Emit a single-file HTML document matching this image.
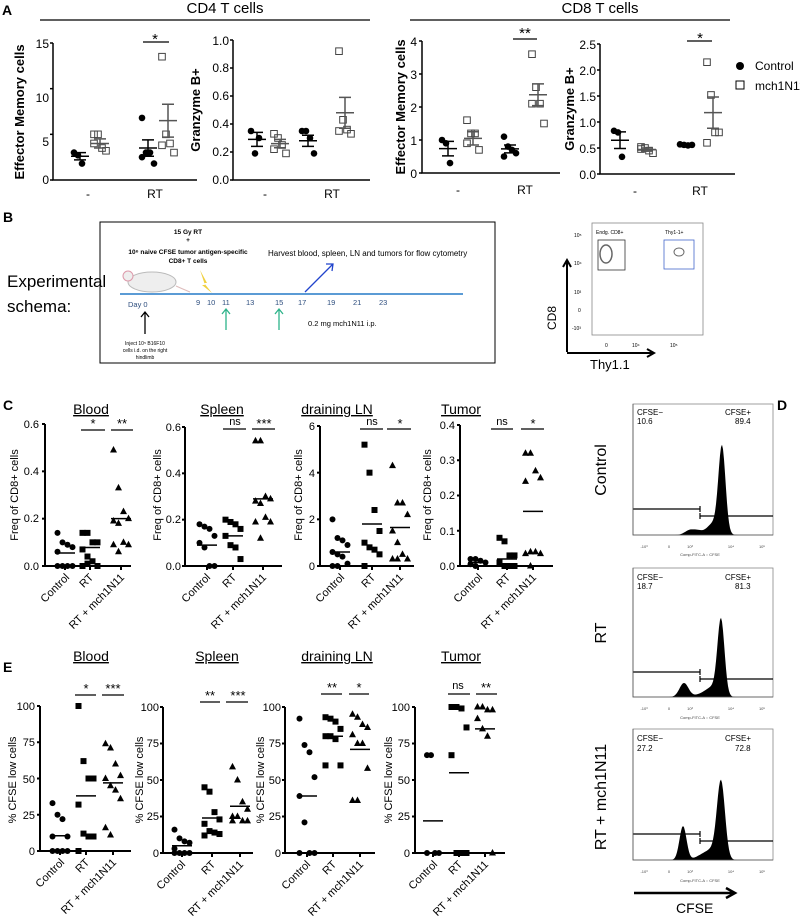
<!DOCTYPE html>
<html><head><meta charset="utf-8"><style>
html,body{margin:0;padding:0;background:#fff;}
svg{display:block;font-family:"Liberation Sans",Arial,sans-serif;}
</style></head><body>
<svg id="s" width="800" height="918" viewBox="0 0 800 918" xmlns="http://www.w3.org/2000/svg">
<g font-weight="bold" font-size="14"><text x="2" y="15">A</text><text x="3" y="222">B</text><text x="3" y="410">C</text><text x="777" y="410">D</text><text x="3" y="672">E</text></g>
<text x="225" y="13" font-size="15" text-anchor="middle">CD4 T cells</text>
<line x1="40" y1="20" x2="370" y2="20" stroke="#000" stroke-width="1.2"/>
<text x="600" y="13" font-size="15" text-anchor="middle">CD8 T cells</text>
<line x1="410" y1="20" x2="730" y2="20" stroke="#000" stroke-width="1.2"/>
<g font-size="13" font-weight="bold">
<text transform="translate(24,112) rotate(-90)" text-anchor="middle">Effector Memory cells</text>
<text transform="translate(200,110) rotate(-90)" text-anchor="middle">Granzyme B+</text>
<text transform="translate(405,107) rotate(-90)" text-anchor="middle">Effector Memory cells</text>
<text transform="translate(574,109) rotate(-90)" text-anchor="middle">Granzyme B+</text>
</g>
<g font-size="12" text-anchor="end">
<text x="49" y="48">15</text><text x="49" y="102">10</text><text x="49" y="146">5</text><text x="49" y="184">0</text>
<text x="229" y="45">1.0</text><text x="229" y="72">0.8</text><text x="229" y="100">0.6</text><text x="229" y="128">0.4</text><text x="229" y="156">0.2</text><text x="229" y="184">0.0</text>
<text x="417" y="46">4</text><text x="417" y="79">3</text><text x="417" y="112">2</text><text x="417" y="145">1</text><text x="417" y="178">0</text>
<text x="596" y="49">2.5</text><text x="596" y="75">2.0</text><text x="596" y="101">1.5</text><text x="596" y="127">1.0</text><text x="596" y="153">0.5</text><text x="596" y="179">0.0</text>
</g>
<g font-size="12" text-anchor="middle">
<text x="88" y="198">-</text><text x="155" y="198">RT</text>
<text x="265" y="198">-</text><text x="332" y="198">RT</text>
<text x="458" y="194">-</text><text x="525" y="194">RT</text>
<text x="635" y="195">-</text><text x="700" y="195">RT</text>
</g>
<g font-size="15" text-anchor="middle"><text x="155" y="44">*</text><text x="525" y="38">**</text><text x="700" y="43">*</text></g>
<g stroke="#000" stroke-width="1.2"><line x1="143" y1="42" x2="169" y2="42"/><line x1="513" y1="39" x2="537" y2="39"/><line x1="687" y1="41" x2="712" y2="41"/></g>
<circle cx="740" cy="66" r="4"/><text x="755" y="70" font-size="12">Control</text>
<rect x="736" y="81" width="8" height="8" fill="none" stroke="#000" stroke-width="1"/><text x="755" y="90" font-size="12">mch1N11</text>

<rect x="100" y="222" width="395" height="141" fill="none" stroke="#000" stroke-width="1"/>
<text x="7" y="287" font-size="17">Experimental</text><text x="7" y="312" font-size="17">schema:</text>
<line x1="120" y1="294" x2="463" y2="294" stroke="#5b9bd5" stroke-width="2"/>
<g font-size="6.5" font-weight="bold" text-anchor="middle"><text x="188" y="234">15 Gy RT</text><text x="188" y="242">+</text><text x="188" y="254">10⁶ naive CFSE tumor antigen-specific</text><text x="188" y="263">CD8+ T cells</text></g>
<text x="268" y="256" font-size="8">Harvest blood, spleen, LN and tumors for flow cytometry</text>
<g font-size="7.5" fill="#2f4f7f"><text x="128" y="307">Day 0</text><text x="196" y="305">9</text><text x="207" y="305">10</text><text x="222" y="305">11</text><text x="246" y="305">13</text><text x="275" y="305">15</text><text x="298" y="305">17</text><text x="327" y="305">19</text><text x="353" y="305">21</text><text x="379" y="305">23</text></g>
<text x="308" y="326" font-size="7.5">0.2 mg mch1N11 i.p.</text>
<g font-size="5" text-anchor="middle"><text x="145" y="345">Inject 10⁵ B16F10</text><text x="145" y="352">cells i.d. on the right</text><text x="145" y="359">hindlimb</text></g>
<g stroke-width="1.3" fill="none"><path d="M145 334V313M141 317L145 312L149 317" stroke="#000"/><path d="M226 330V310M222 314L226 309L230 314M279 330V310M275 314L279 309L283 314" stroke="#2db38a"/><path d="M305 292L333 264M326 264L333 264L332 271" stroke="#2244cc"/></g>
<ellipse cx="152" cy="282" rx="24" ry="10" fill="#eee" stroke="#bbb"/><circle cx="128" cy="276" r="5" fill="#eee" stroke="#d9a"/><path d="M176 286Q185 290 190 292" stroke="#dbb" fill="none"/>
<path d="M200 270L207 283L204 283L212 293L202 285L205 285Z" fill="#f0d040"/>
<rect x="592" y="223" width="111" height="112" fill="none" stroke="#888" stroke-width="0.8"/>
<rect x="598" y="240" width="27" height="30" fill="none" stroke="#333" stroke-width="0.8"/><ellipse cx="606" cy="254" rx="6" ry="9" fill="none" stroke="#666" stroke-width="1.5"/>
<rect x="664" y="240" width="30" height="29" fill="none" stroke="#4466cc" stroke-width="0.8"/><ellipse cx="679" cy="252" rx="5" ry="4" fill="none" stroke="#666"/>
<g font-size="5"><text x="596" y="234">Endg. CD8+</text><text x="665" y="234">Thy1-1+</text><text x="574" y="237">10⁵</text><text x="574" y="265">10⁴</text><text x="574" y="294">10³</text><text x="578" y="312">0</text><text x="572" y="330">-10³</text><text x="605" y="347">0</text><text x="632" y="347">10⁴</text><text x="670" y="347">10⁵</text></g>
<path d="M567 352V261M563 267L567 260L571 267M567 353H653M647 349L654 353L647 357" stroke="#000" stroke-width="2" fill="none"/>
<text x="590" y="369" font-size="13">Thy1.1</text>
<text transform="translate(556,330) rotate(-90)" font-size="12">CD8</text>

<g font-size="14" text-anchor="middle" text-decoration="underline"><text x="91" y="414">Blood</text><text x="222" y="414">Spleen</text><text x="337" y="414">draining LN</text><text x="461" y="414">Tumor</text>
<text x="91" y="661">Blood</text><text x="217" y="661">Spleen</text><text x="337" y="661">draining LN</text><text x="461" y="661">Tumor</text></g>
<g font-size="11" text-anchor="middle">
<text transform="translate(18,495) rotate(-90)">Freq of CD8+ cells</text><text transform="translate(161,495) rotate(-90)">Freq of CD8+ cells</text><text transform="translate(302,495) rotate(-90)">Freq of CD8+ cells</text><text transform="translate(431,495) rotate(-90)">Freq of CD8+ cells</text>
<text transform="translate(16,780) rotate(-90)">% CFSE low cells</text><text transform="translate(143,780) rotate(-90)">% CFSE low cells</text><text transform="translate(264,780) rotate(-90)">% CFSE low cells</text><text transform="translate(392,780) rotate(-90)">% CFSE low cells</text>
</g>
<g font-size="11" text-anchor="end">
<text x="39" y="428">0.6</text><text x="39" y="475">0.4</text><text x="39" y="522">0.2</text><text x="39" y="570">0.0</text>
<text x="181" y="431">0.6</text><text x="181" y="477">0.4</text><text x="181" y="523">0.2</text><text x="181" y="570">0.0</text>
<text x="315" y="430">6</text><text x="315" y="477">4</text><text x="315" y="523">2</text><text x="315" y="570">0</text>
<text x="455" y="429">0.4</text><text x="455" y="464">0.3</text><text x="455" y="499">0.2</text><text x="455" y="535">0.1</text><text x="455" y="570">0.0</text>
<text x="35" y="710">100</text><text x="35" y="746">75</text><text x="35" y="783">50</text><text x="35" y="819">25</text><text x="35" y="855">0</text>
<text x="159" y="711">100</text><text x="159" y="747">75</text><text x="159" y="784">50</text><text x="159" y="820">25</text><text x="159" y="857">0</text>
<text x="281" y="711">100</text><text x="281" y="747">75</text><text x="281" y="784">50</text><text x="281" y="820">25</text><text x="281" y="857">0</text>
<text x="410" y="711">100</text><text x="410" y="747">75</text><text x="410" y="784">50</text><text x="410" y="820">25</text><text x="410" y="857">0</text>
</g>
<g font-size="13" text-anchor="middle">
<text x="93" y="428">*</text><text x="122" y="428">**</text>
<text x="235" y="425" font-size="11">ns</text><text x="264" y="428">***</text>
<text x="372" y="425" font-size="11">ns</text><text x="400" y="428">*</text>
<text x="502" y="425" font-size="11">ns</text><text x="533" y="428">*</text>
<text x="86" y="693">*</text><text x="113" y="693">***</text>
<text x="210" y="700">**</text><text x="238" y="700">***</text>
<text x="332" y="692">**</text><text x="359" y="692">*</text>
<text x="458" y="689" font-size="11">ns</text><text x="486" y="692">**</text>
</g>
<g stroke="#000" stroke-width="1.2">
<line x1="81" y1="430" x2="105" y2="430"/><line x1="111" y1="430" x2="133" y2="430"/>
<line x1="223" y1="429" x2="246" y2="429"/><line x1="252" y1="429" x2="275" y2="429"/>
<line x1="360" y1="429" x2="383" y2="429"/><line x1="387" y1="429" x2="411" y2="429"/>
<line x1="491" y1="429" x2="513" y2="429"/><line x1="521" y1="429" x2="544" y2="429"/>
<line x1="75" y1="695" x2="96" y2="695"/><line x1="102" y1="695" x2="124" y2="695"/>
<line x1="200" y1="702" x2="220" y2="702"/><line x1="226" y1="702" x2="248" y2="702"/>
<line x1="321" y1="694" x2="342" y2="694"/><line x1="349" y1="694" x2="369" y2="694"/>
<line x1="448" y1="694" x2="470" y2="694"/><line x1="476" y1="694" x2="497" y2="694"/>
</g>

<g font-size="16" text-anchor="middle"><text transform="translate(606,470) rotate(-90)">Control</text><text transform="translate(606,633) rotate(-90)">RT</text><text transform="translate(606,797) rotate(-90)">RT + mch1N11</text></g>
<g fill="none" stroke="#888" stroke-width="0.8"><rect x="633" y="404" width="140" height="131"/><rect x="633" y="568" width="140" height="129"/><rect x="633" y="729" width="140" height="131"/></g>
<g font-size="8"><text x="637" y="415">CFSE−</text><text x="637" y="424">10.6</text><text x="725" y="415">CFSE+</text><text x="735" y="424">89.4</text>
<text x="637" y="580">CFSE−</text><text x="637" y="589">18.7</text><text x="725" y="580">CFSE+</text><text x="735" y="589">81.3</text>
<text x="637" y="741">CFSE−</text><text x="637" y="751">27.2</text><text x="725" y="741">CFSE+</text><text x="735" y="751">72.8</text></g>
<g font-size="4" fill="#444" text-anchor="middle"><text x="700" y="556">Comp-FITC-A :: CFSE</text><text x="700" y="719">Comp-FITC-A :: CFSE</text><text x="700" y="882">Comp-FITC-A :: CFSE</text>
<text x="644" y="548">-10³</text><text x="669" y="548">0</text><text x="690" y="548">10³</text><text x="731" y="548">10⁴</text><text x="762" y="548">10⁵</text>
<text x="644" y="710">-10³</text><text x="669" y="710">0</text><text x="690" y="710">10³</text><text x="731" y="710">10⁴</text><text x="762" y="710">10⁵</text>
<text x="644" y="873">-10³</text><text x="669" y="873">0</text><text x="690" y="873">10³</text><text x="731" y="873">10⁴</text><text x="762" y="873">10⁵</text></g>
<path d="M634 893H733M726 888L735 893L726 898" stroke="#000" stroke-width="2.5" fill="none"/>
<text x="676" y="913" font-size="14">CFSE</text>
<g font-size="11" text-anchor="end">
<text transform="translate(70,578) rotate(-45)">Control</text><text transform="translate(94,578) rotate(-45)">RT</text><text transform="translate(125,578) rotate(-45)">RT + mch1N11</text>
<text transform="translate(211,578) rotate(-45)">Control</text><text transform="translate(237,578) rotate(-45)">RT</text><text transform="translate(267,578) rotate(-45)">RT + mch1N11</text>
<text transform="translate(345,578) rotate(-45)">Control</text><text transform="translate(376,578) rotate(-45)">RT</text><text transform="translate(404,578) rotate(-45)">RT + mch1N11</text>
<text transform="translate(483,578) rotate(-45)">Control</text><text transform="translate(511,578) rotate(-45)">RT</text><text transform="translate(537,578) rotate(-45)">RT + mch1N11</text>
<text transform="translate(65,863) rotate(-45)">Control</text><text transform="translate(90,863) rotate(-45)">RT</text><text transform="translate(117,863) rotate(-45)">RT + mch1N11</text>
<text transform="translate(186,865) rotate(-45)">Control</text><text transform="translate(216,865) rotate(-45)">RT</text><text transform="translate(244,865) rotate(-45)">RT + mch1N11</text>
<text transform="translate(311,865) rotate(-45)">Control</text><text transform="translate(337,865) rotate(-45)">RT</text><text transform="translate(364,865) rotate(-45)">RT + mch1N11</text>
<text transform="translate(438,865) rotate(-45)">Control</text><text transform="translate(463,865) rotate(-45)">RT</text><text transform="translate(489,865) rotate(-45)">RT + mch1N11</text>
</g>
<g id="m"></g>
</svg>
<script>
var NS="http://www.w3.org/2000/svg",m=document.getElementById('m');
function el(t,a){var e=document.createElementNS(NS,t);for(var k in a)e.setAttribute(k,a[k]);m.appendChild(e);return e;}
function mk(type,x,y,s){if(type=='c')el('circle',{cx:x,cy:y,r:s});
 else if(type=='s')el('rect',{x:x-s,y:y-s,width:2*s,height:2*s});
 else if(type=='o')el('rect',{x:x-s,y:y-s,width:2*s,height:2*s,fill:'none',stroke:'#444','stroke-width':1});
 else el('path',{d:'M'+x+' '+(y-s-1)+'L'+(x+s+0.5)+' '+(y+s-0.5)+'L'+(x-s-0.5)+' '+(y+s-0.5)+'Z'});}
function axes(ax,top,bot,right,w,nt){el('path',{d:'M'+ax+' '+top+'V'+bot+'H'+right,stroke:'#000','stroke-width':w,fill:'none'});
 for(var i=0;i<nt;i++){var y=top+(bot-top)*i/(nt-1);el('line',{x1:ax-3,y1:y,x2:ax,y2:y,stroke:'#000','stroke-width':w});}}
function grp(x,vals,type,top,bot,max,s,mean,sem,ml){var n=vals.length;
 vals.forEach(function(v,i){var j=((i%4)-1.5)*5*(n>5?1:0.8);mk(type,x+j,bot-(bot-top)*v/max,s);});
 var my=bot-(bot-top)*mean/max;el('line',{x1:x-ml,y1:my,x2:x+ml,y2:my,stroke:type=='o'?'#555':'#000','stroke-width':1.5});
 if(sem){var a=bot-(bot-top)*(mean+sem)/max,b=bot-(bot-top)*(mean-sem)/max;
  el('path',{d:'M'+x+' '+a+'V'+b+'M'+(x-6)+' '+a+'H'+(x+6)+'M'+(x-6)+' '+b+'H'+(x+6),stroke:type=='o'?'#555':'#000','stroke-width':1.5,fill:'none'});}}
axes(53,43,180,197,1.5,4);axes(233,40,180,370,1.5,6);axes(422,41,173,560,1.5,5);axes(600,44,174,735,1.5,6);
grp(80,[3,2.7,1.8],'c',43,180,15,3.3,2.6,0.4,9);grp(100,[5,5,3.5,3.2,4],'o',43,180,15,3.3,4,0.5,9);
grp(148,[6.8,3,3,1.8,2.5],'c',43,180,15,3.3,3.5,0.9,9);grp(168,[13.5,5,4,3,3.8],'o',43,180,15,3.3,6.5,1.8,9);
grp(257,[.35,.19,.3],'c',40,180,1,3.3,.29,.05,9);grp(280,[.33,.3,.25,.19,.22],'o',40,180,1,3.3,.26,.03,9);
grp(308,[.35,.35,.3,.19],'c',40,180,1,3.3,.28,.04,9);grp(345,[.92,.43,.36,.33,.35],'o',40,180,1,3.3,.48,.11,9);
grp(448,[1,.9,.3],'c',41,173,4,3.3,.74,.22,9);grp(473,[1.6,1.2,1.2,.7,.9],'o',41,173,4,3.3,1.05,.2,9);
grp(510,[1.1,.8,.7,.6,.5],'c',41,173,4,3.3,.73,.12,9);grp(538,[3.6,2.6,2.1,1.5,2.1],'o',41,173,4,3.3,2.37,.33,9);
grp(620,[.83,.8,.33],'c',44,174,2.5,3.3,.65,.16,9);grp(647,[.52,.5,.45,.4,.48],'o',44,174,2.5,3.3,.47,.03,9);
grp(686,[.57,.56,.55,.56],'c',44,174,2.5,3.3,.56,.01,9);grp(713,[2.15,1.52,.8,.8,.6],'o',44,174,2.5,3.3,1.18,.3,9);
var C=[[45,424,566,131,.6,[65,90,121],[[.14,.1,.09,.08,.06,0,0,0,0],[.14,.14,.1,.1,.07,.04,.02,0,0,.01],[.49,.33,.23,.2,.19,.18,.1,.09,.09,.06]],[.055,.078,.2],4],
[185,427,566,282,.6,[207,233,263],[[.18,.17,.16,.13,.1,.08,0,0],[.2,.19,.18,.16,.13,.09,.08,.03],[.54,.54,.3,.29,.28,.27,.21,.19,.19,.12]],[.09,.13,.29],4],
[320,426,566,414,6,[340,372,400],[[2,1.2,1.1,.9,.6,.5,.4,.1,0,0],[5.2,4,2.4,1.5,1,.8,.7,.5,0],[4.3,2.7,2.7,2.2,1.5,1,.5,.3,.3,.3]],[.6,1.8,1.65],4],
[460,425,566,553,.4,[478,507,533],[[.02,.02,.015,.01,.005,0],[.08,.07,.03,.03,.01,0,0,0],[.32,.32,.27,.25,.24,.04,.04,.035,.035,0]],[.01,.02,.155],5],
[40,706,851,131,100,[60,86,113],[[33,25,22,10,10,0,0,0,0],[100,62,50,50,32,12,10,10,0],[74,71,60,52,50,45,42,36,16,11]],[10.5,38,47],5],
[163,707,853,253,100,[182,212,240],[[16,10,8,7,3,0,0,0,0],[45,42,28,23,20,15,14,13,12],[59,50,35,30,25,25,22,22,22]],[5,24,32],5],
[285,707,853,375,100,[307,333,360],[[92,74,69,52,39,21,0,0,0],[93,92,90,85,80,80,78,60,60],[95,93,88,86,81,75,75,58,36,36]],[39,80,71],5],
[415,707,853,505,100,[433,459,485],[[67,67,0,0,0],[100,100,99,86,67,0,0,0],[100,100,98,98,92,85,80,0]],[22,55,85],5]];
C.forEach(function(p){axes(p[0],p[1],p[2],p[3],2,p[8]);
 ['c','s','t'].forEach(function(t,i){grp(p[5][i],p[6][i],t,p[1],p[2],p[4],3,p[7][i],0,10);
  el('line',{x1:p[5][i],y1:p[2],x2:p[5][i],y2:p[2]+4,stroke:'#000','stroke-width':2});});});
function hist(top,bot,peaks,g1,g2){var d='M634 '+bot;
 for(var x=634;x<=772;x++){var h=0;peaks.forEach(function(p){h+=p[1]*Math.exp(-Math.pow((x-p[0])/p[2],2)/2);});d+='L'+x+' '+(bot-h);}
 d+='L772 '+bot+'Z';el('path',{d:d,fill:'#000'});
 el('path',{d:'M633 '+g1+'H700M700 '+(g1-3)+'V'+(g1+3)+'M700 '+g2+'H773M700 '+(g2-3)+'V'+(g2+3),stroke:'#000','stroke-width':1.2,fill:'none'});
 el('path',{d:'M633 '+top+'V'+bot+'H773',stroke:'#555','stroke-width':0.8,fill:'none'});}
hist(404,535,[[722,84,3.5],[714,12,7],[690,5,5],[698,3,4]],509,516);
hist(568,697,[[721,74,3.5],[713,10,7],[684,14,4.5],[700,2,6]],672,679);
hist(729,860,[[721,76,4],[712,10,7],[683,34,3.5],[700,3,6]],834,841);
</script>
</body></html>
